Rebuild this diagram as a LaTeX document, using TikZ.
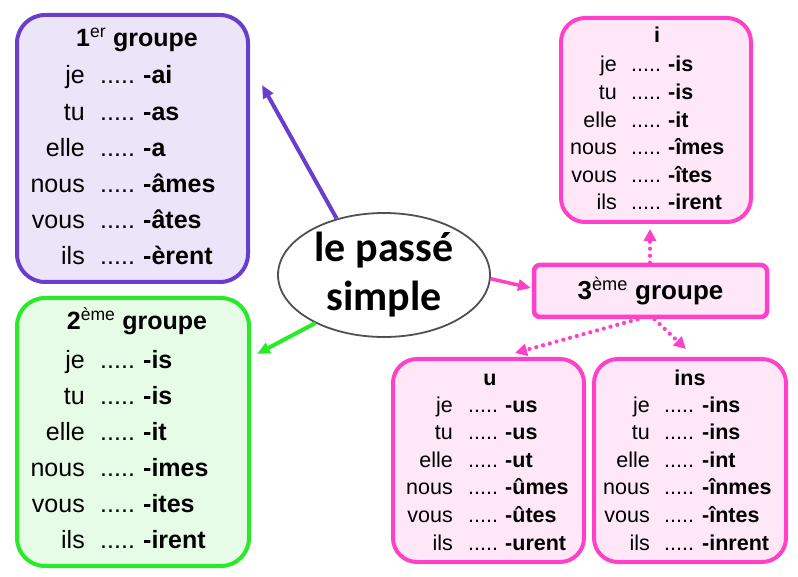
\documentclass[tikz,border=0pt]{standalone}
\usepackage{fontspec}
\setmainfont{Liberation Sans}
\newfontfamily\calibri{Carlito}
\usetikzlibrary{arrows.meta}
\usetikzlibrary{shapes.geometric}
\definecolor{violetline}{RGB}{106,62,204}
\definecolor{violetfill}{RGB}{236,228,248}
\definecolor{vertline}{RGB}{40,235,40}
\definecolor{vertfill}{RGB}{230,252,230}
\definecolor{roseline}{RGB}{255,64,200}
\definecolor{rosefill}{RGB}{254,232,248}
\definecolor{grisline}{RGB}{80,80,80}
\tikzset{
groupbox/.style = {rectangle, line width=4pt, inner sep=0pt},
pron/.style = {anchor=base east, inner sep=0pt},
dotsfill/.style = {anchor=base west, inner sep=0pt},
ending/.style = {anchor=base west, inner sep=0pt},
tip/.style = {-{Triangle[length=13pt,width=11pt]}},
pinkdots/.style = {-{Triangle[length=12pt,width=12pt]}, roseline, line width=4.2pt,
                   line cap=round, dash pattern=on 0pt off 7pt},
}
% rows of one box: name, x pronoun, x dots, x ending, first baseline, step, endings
\newcommand{\conjrows}[7]{
  \foreach \p/\e [count=\k from 0] in {#7} {
    \node [pron] (#1p\k) at (#2, #5+\k*#6) {\p};
    \node [dotsfill] (#1d\k) at (#3, #5+\k*#6) {.....};
    \node [ending] (#1e\k) at (#4, #5+\k*#6) {\bfseries -\e};
  }
}

\begin{document}
\begin{tikzpicture}[x=1pt, y=-1pt]
        \useasboundingbox (0,0) rectangle (798,577);
        % boxes
        \node [groupbox, draw=violetline, fill=violetfill, rounded corners=28pt,
               minimum width=231pt, minimum height=267pt] (g1) at (132.5, 148.5) {};
        \node [groupbox, draw=vertline, fill=vertfill, rounded corners=28pt,
               minimum width=232pt, minimum height=268pt] (g2) at (133, 432) {};
        \node [groupbox, draw=roseline, fill=rosefill, rounded corners=24pt,
               minimum width=190pt, minimum height=204pt] (gi) at (656, 120) {};
        \node [groupbox, draw=roseline, fill=rosefill, rounded corners=24pt,
               minimum width=191pt, minimum height=203pt] (gu) at (488.5, 460.5) {};
        \node [groupbox, draw=roseline, fill=rosefill, rounded corners=24pt,
               minimum width=192pt, minimum height=203pt] (gins) at (690, 460.5) {};
        \node [groupbox, draw=roseline, fill=rosefill, rounded corners=6pt, line width=4.5pt,
               minimum width=233pt, minimum height=52pt,
               font=\fontsize{26}{30}\selectfont\bfseries] (g3) at (650.5, 291)
               {3\textsuperscript{\mdseries ème} groupe};
        \node [ellipse, draw=grisline, fill=white, line width=1.8pt, inner sep=0pt,
               minimum width=212pt, minimum height=124pt, align=center,
               font=\calibri\bfseries\fontsize{42}{49}\selectfont] (ps) at (384, 275)
               {le passé\\simple};
        % contents
        \begin{scope}[font=\fontsize{25}{30}\selectfont]
          \node [anchor=base] (g1t) at (137, 47) {\bfseries 1\textsuperscript{\mdseries er} groupe};
          \conjrows{g1}{85}{100}{143}{84}{36.2}{je/ai, tu/as, elle/a, nous/âmes, vous/âtes, ils/èrent}
          \node [anchor=base] (g2t) at (137, 330) {\bfseries 2\textsuperscript{\mdseries ème} groupe};
          \conjrows{g2}{85}{100}{143}{368}{36}{je/is, tu/is, elle/it, nous/imes, vous/ites, ils/irent}
        \end{scope}
        \begin{scope}[font=\fontsize{21.5}{26}\selectfont]
          \node [anchor=base] (git) at (657, 43) {\bfseries i};
          \conjrows{gi}{617}{631}{668}{72}{27.6}{je/is, tu/is, elle/it, nous/îmes, vous/îtes, ils/irent}
          \node [anchor=base] (gut) at (490, 385) {\bfseries u};
          \conjrows{gu}{453}{468}{505}{412}{27.6}{je/us, tu/us, elle/ut, nous/ûmes, vous/ûtes, ils/urent}
          \node [anchor=base] (ginst) at (690, 385) {\bfseries ins};
          \conjrows{gins}{650}{664}{702}{412}{27.6}{je/ins, tu/ins, elle/int, nous/înmes, vous/întes, ils/inrent}
        \end{scope}
        % arrows
        \coordinate (t1) at (262, 85);
        \coordinate (t2) at (257, 354);
        \coordinate (t3) at (531, 288);
        \coordinate (ti) at (650, 229);
        \coordinate (tu) at (515, 353);
        \coordinate (tins) at (686, 349);
        \draw [tip, violetline, line width=4pt] (ps.130) to (t1);
        \draw [tip, vertline, line width=4pt] (ps.215) to (t2);
        \draw [tip, roseline, line width=3.5pt] (ps.358) to (t3);
        \draw [pinkdots] (g3.north -| ti) to (ti);
        \draw [pinkdots] ([xshift=-13pt]g3.south) to (tu);
        \draw [pinkdots] ([xshift=4pt]g3.south) to (tins);
\end{tikzpicture}
\end{document}
